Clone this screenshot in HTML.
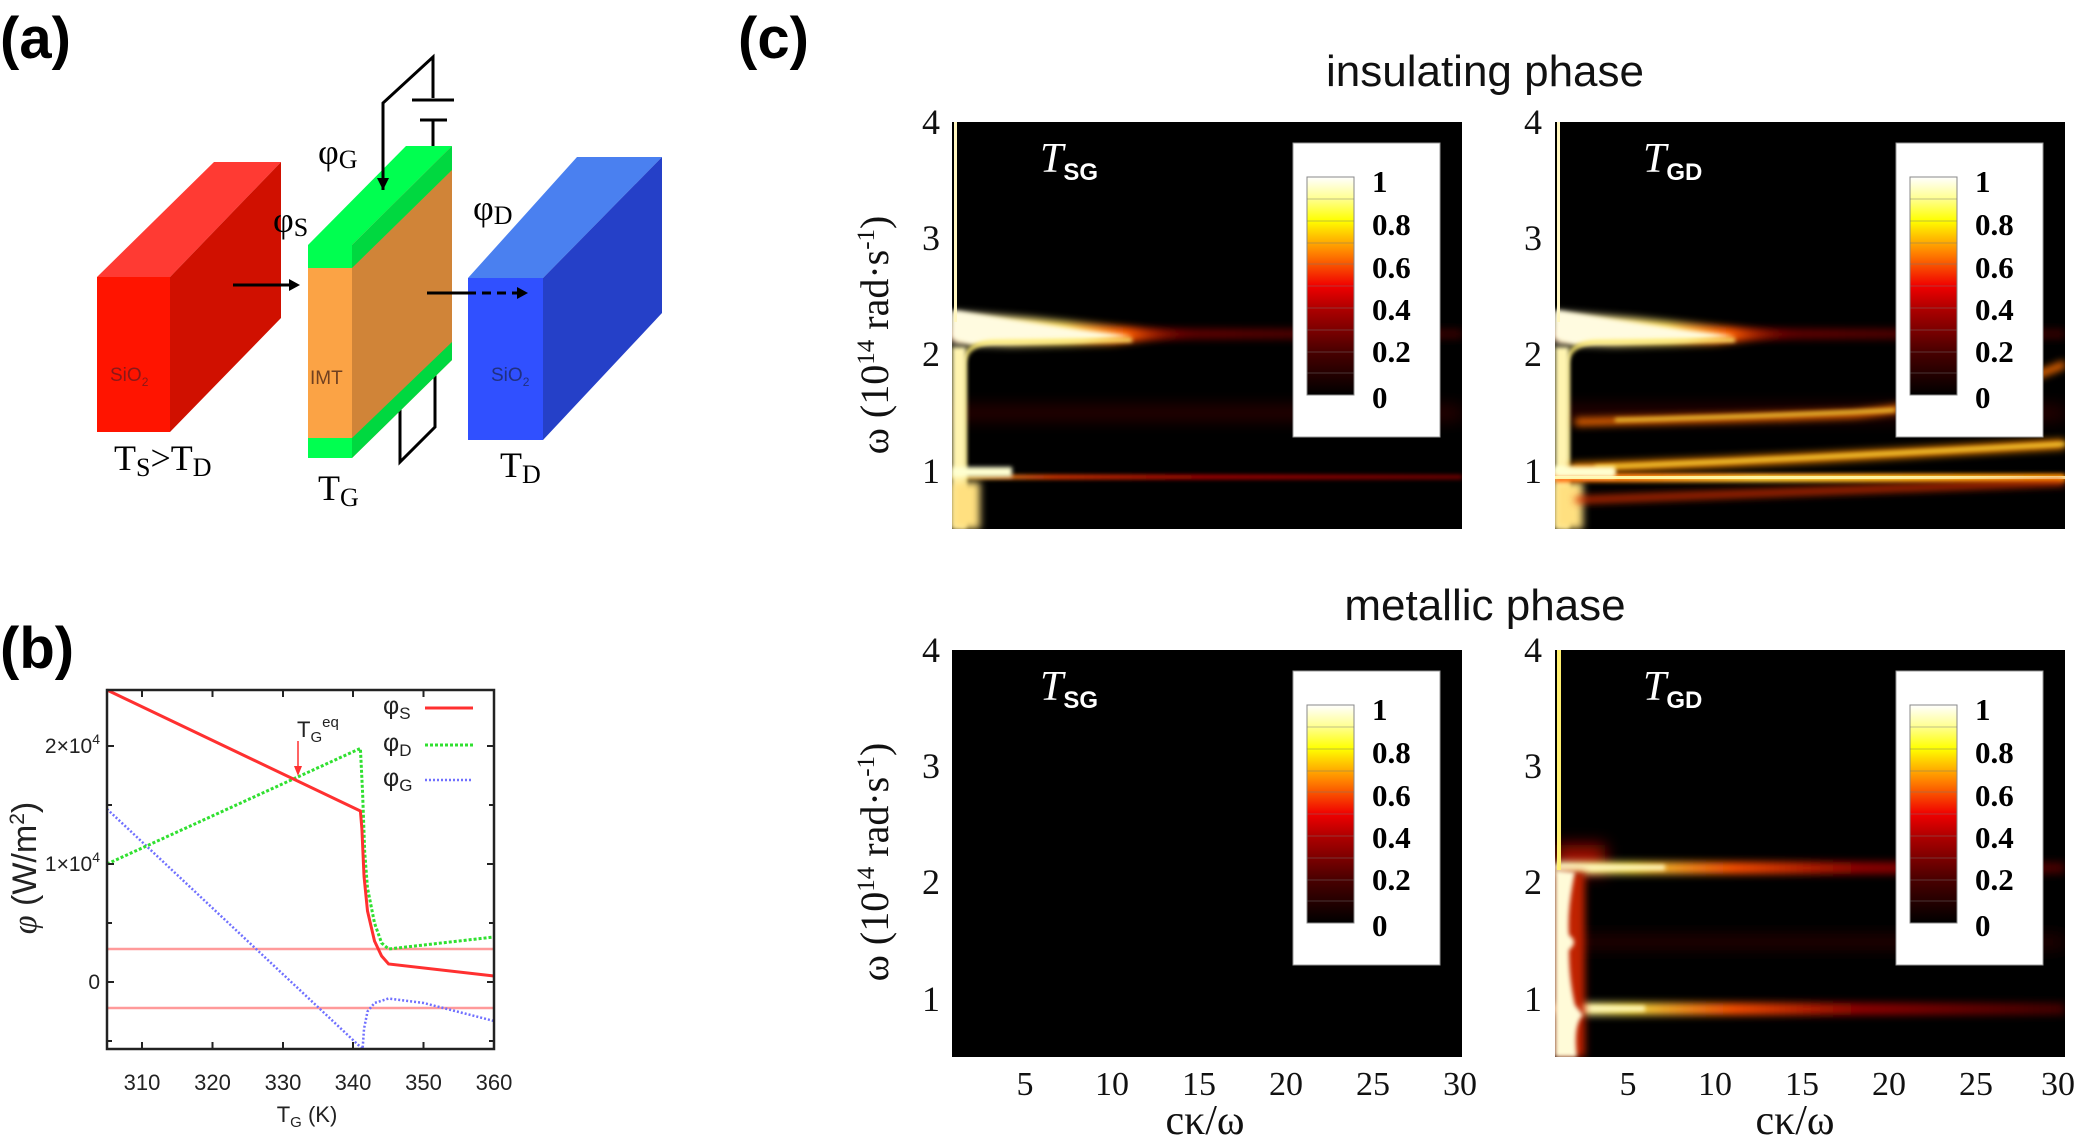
<!DOCTYPE html>
<html><head><meta charset="utf-8"><style>
html,body{margin:0;padding:0;background:#fff;}
svg{display:block;}
.sans{font-family:"Liberation Sans",sans-serif;}
.serif{font-family:"Liberation Serif",serif;}
</style></head><body>
<svg width="2079" height="1141" viewBox="0 0 2079 1141" xmlns="http://www.w3.org/2000/svg">
<defs>
<filter id="b2" filterUnits="userSpaceOnUse" x="-100" y="-100" width="800" height="700"><feGaussianBlur stdDeviation="2"/></filter>
<filter id="b4" filterUnits="userSpaceOnUse" x="-100" y="-100" width="800" height="700"><feGaussianBlur stdDeviation="4"/></filter>
<filter id="b8" filterUnits="userSpaceOnUse" x="-100" y="-100" width="800" height="700"><feGaussianBlur stdDeviation="8"/></filter>
<clipPath id="hm"><rect x="0" y="0" width="510" height="407"/></clipPath>
<linearGradient id="cb" x1="0" y1="1" x2="0" y2="0">
<stop offset="0" stop-color="#000"/><stop offset="0.2" stop-color="#4a0000"/><stop offset="0.4" stop-color="#b00000"/><stop offset="0.5" stop-color="#f00000"/><stop offset="0.65" stop-color="#ff8000"/><stop offset="0.8" stop-color="#ffff00"/><stop offset="0.9" stop-color="#ffff90"/><stop offset="1" stop-color="#ffffff"/>
</linearGradient>
<linearGradient id="fadeW" x1="0" y1="0" x2="1" y2="0"><stop offset="0" stop-color="#fff8d0"/><stop offset="0.45" stop-color="#ffe060"/><stop offset="0.7" stop-color="#ff6000"/><stop offset="1" stop-color="#900000" stop-opacity="0"/></linearGradient>
<linearGradient id="fadeR" x1="0" y1="0" x2="1" y2="0"><stop offset="0" stop-color="#ffd040"/><stop offset="0.2" stop-color="#ff4000"/><stop offset="0.5" stop-color="#c00000"/><stop offset="1" stop-color="#800000"/></linearGradient>
<linearGradient id="fadeD" x1="0" y1="0" x2="1" y2="0"><stop offset="0" stop-color="#900000"/><stop offset="0.5" stop-color="#600000"/><stop offset="1" stop-color="#300000"/></linearGradient>
<linearGradient id="fadeY" x1="0" y1="0" x2="1" y2="0"><stop offset="0" stop-color="#ff6000"/><stop offset="0.4" stop-color="#ffd030"/><stop offset="1" stop-color="#ffb000"/></linearGradient>
<linearGradient id="fadeM" x1="0" y1="0" x2="1" y2="0"><stop offset="0" stop-color="#ffffd0"/><stop offset="0.15" stop-color="#ffe040"/><stop offset="0.35" stop-color="#ff5000"/><stop offset="0.6" stop-color="#900000"/><stop offset="1" stop-color="#400000"/></linearGradient>
<g id="cbar">
<rect x="341" y="21" width="147" height="294" fill="#fff" stroke="#999" stroke-width="1"/>
<rect x="355" y="55" width="47" height="218" fill="url(#cb)" stroke="#888" stroke-width="1"/>
<g stroke="#777" stroke-width="0.8" opacity="0.6">
<line x1="355" y1="77" x2="402" y2="77"/><line x1="355" y1="99" x2="402" y2="99"/><line x1="355" y1="121" x2="402" y2="121"/><line x1="355" y1="142" x2="402" y2="142"/><line x1="355" y1="164" x2="402" y2="164"/><line x1="355" y1="186" x2="402" y2="186"/><line x1="355" y1="208" x2="402" y2="208"/><line x1="355" y1="230" x2="402" y2="230"/><line x1="355" y1="251" x2="402" y2="251"/>
</g>
<g class="serif" font-weight="bold" font-size="31" fill="#000">
<text x="420" y="70">1</text><text x="420" y="113">0.8</text><text x="420" y="156">0.6</text><text x="420" y="198">0.4</text><text x="420" y="240">0.2</text><text x="420" y="286">0</text>
</g>
</g>
<g id="ins">
<rect x="0" y="0" width="510" height="407" fill="#000"/>
<rect x="0" y="284" width="510" height="14" fill="#400000" filter="url(#b8)" opacity="0.7"/>
<rect x="0" y="353" width="510" height="4" fill="url(#fadeR)" filter="url(#b2)"/>
<rect x="0" y="207" width="510" height="10" fill="url(#fadeD)" filter="url(#b4)"/>
<polygon points="0,190 80,196 160,204 250,212 160,222 60,224 0,222" fill="url(#fadeW)" filter="url(#b4)"/>
<polygon points="0,188 60,198 130,208 180,214 130,219 60,221 20,222 0,216" fill="#fffbe0" filter="url(#b2)"/>
<path d="M12,405 L12,240 Q14,222 40,220 L180,218" stroke="#ffec70" stroke-width="4" fill="none" filter="url(#b2)"/>
<rect x="0" y="225" width="14" height="182" fill="#fff4b0" filter="url(#b2)"/>
<rect x="0" y="345" width="60" height="10" fill="#ffffd0" filter="url(#b2)"/>
<rect x="0" y="360" width="28" height="47" fill="#ffe080" filter="url(#b4)"/>
<rect x="2" y="0" width="3" height="200" fill="#fff6c0"/>
</g>
</defs>

<!-- (a) -->
<text x="0" y="58" class="sans" font-weight="bold" font-size="58">(a)</text>
<polygon points="97,277 214,162 281,162 170,277" fill="#ff3a33"/>
<polygon points="170,277 281,162 281,318 170,432" fill="#d01000"/>
<rect x="97" y="277" width="73" height="155" fill="#ff1400"/>
<text x="110" y="381" class="sans" font-size="19" fill="#8a1818">SiO<tspan font-size="12" dy="5">2</tspan></text>
<line x1="233" y1="285" x2="292" y2="285" stroke="#000" stroke-width="3"/><polygon points="300,285 289,279 289,291" fill="#000"/>
<polyline points="400,360 400,462 435,427 435,360" fill="none" stroke="#000" stroke-width="3"/>
<polyline points="383,180 383,103 433,57 433,98" fill="none" stroke="#000" stroke-width="3"/>
<line x1="412" y1="100" x2="454" y2="100" stroke="#000" stroke-width="3"/>
<line x1="420" y1="120" x2="447" y2="120" stroke="#000" stroke-width="3"/>
<line x1="433" y1="120" x2="433" y2="146" stroke="#000" stroke-width="3"/>
<polygon points="308,245 406,146 452,146 352,245" fill="#00ff50"/>
<polygon points="352,245 452,146 452,360 352,458" fill="#d08438"/>
<polygon points="352,245 452,146 452,170 352,268" fill="#00d840"/>
<polygon points="352,438 452,342 452,360 352,458" fill="#00d840"/>
<rect x="308" y="245" width="44" height="213" fill="#fba345"/>
<rect x="308" y="245" width="44" height="23" fill="#00ff50"/>
<rect x="308" y="438" width="44" height="20" fill="#00ff50"/>
<line x1="383" y1="146" x2="383" y2="190" stroke="#000" stroke-width="3"/>
<polygon points="383,190 377,178 389,178" fill="#000"/>
<text x="310" y="384" class="sans" font-size="19" fill="#704020">IMT</text>
<polygon points="468,278 577,157 662,157 543,278" fill="#4a80f0"/>
<polygon points="543,278 662,157 662,313 543,440" fill="#2540c8"/>
<rect x="468" y="278" width="75" height="162" fill="#3050ff"/>
<line x1="427" y1="293" x2="467" y2="293" stroke="#000" stroke-width="3"/>
<line x1="467" y1="293" x2="520" y2="293" stroke="#000" stroke-width="3" stroke-dasharray="9,6"/>
<polygon points="528,293 517,287 517,299" fill="#000"/>
<text x="491" y="381" class="sans" font-size="19" fill="#203080">SiO<tspan font-size="12" dy="5">2</tspan></text>
<g class="serif" font-size="36" fill="#000">
<text x="273" y="232">φ<tspan font-size="26" dy="4">S</tspan></text>
<text x="318" y="164">φ<tspan font-size="26" dy="4">G</tspan></text>
<text x="473" y="220">φ<tspan font-size="26" dy="4">D</tspan></text>
<text x="114" y="470">T<tspan font-size="26" dy="6">S</tspan><tspan dy="-6">&gt;T</tspan><tspan font-size="26" dy="6">D</tspan></text>
<text x="318" y="500">T<tspan font-size="26" dy="6">G</tspan></text>
<text x="500" y="477">T<tspan font-size="26" dy="6">D</tspan></text>
</g>

<!-- (b) -->
<text x="0" y="668" class="sans" font-weight="bold" font-size="58">(b)</text>
<g>
<line x1="107" y1="949" x2="494" y2="949" stroke="#ff9a9a" stroke-width="2.5"/>
<line x1="107" y1="1008" x2="494" y2="1008" stroke="#ff9a9a" stroke-width="2.5"/>
<polyline points="107,809 362.6,1049 364,1029 367.5,1011.5 374.5,1003 388.6,998.5 423.8,1003 494,1021" fill="none" stroke="#7070ff" stroke-width="2.5" stroke-dasharray="2,2"/>
<polyline points="107,864 360.4,748.4 362.6,793 364.7,852 367.5,888 374.5,923 381.6,943 388.6,949 494,937" fill="none" stroke="#30e030" stroke-width="3" stroke-dasharray="3,2"/>
<polyline points="107,690 360.4,811 361.9,829 364,876 367.5,911 374.5,941 381.6,956 388.6,964 494,976" fill="none" stroke="#ff3030" stroke-width="3"/>
<rect x="107" y="690" width="387" height="359" fill="none" stroke="#222" stroke-width="2.5"/>
<g stroke="#222" stroke-width="2">
<line x1="142" y1="1049" x2="142" y2="1042"/><line x1="212.5" y1="1049" x2="212.5" y2="1042"/><line x1="283" y1="1049" x2="283" y2="1042"/><line x1="353" y1="1049" x2="353" y2="1042"/><line x1="423.5" y1="1049" x2="423.5" y2="1042"/>
<line x1="142" y1="690" x2="142" y2="697"/><line x1="212.5" y1="690" x2="212.5" y2="697"/><line x1="283" y1="690" x2="283" y2="697"/><line x1="353" y1="690" x2="353" y2="697"/><line x1="423.5" y1="690" x2="423.5" y2="697"/>
<line x1="107" y1="746" x2="114" y2="746"/><line x1="107" y1="864" x2="114" y2="864"/><line x1="107" y1="982" x2="114" y2="982"/><line x1="107" y1="805" x2="112" y2="805"/><line x1="107" y1="923" x2="112" y2="923"/><line x1="107" y1="1041" x2="112" y2="1041"/>
<line x1="494" y1="746" x2="487" y2="746"/><line x1="494" y1="864" x2="487" y2="864"/><line x1="494" y1="982" x2="487" y2="982"/><line x1="494" y1="805" x2="489" y2="805"/><line x1="494" y1="923" x2="489" y2="923"/><line x1="494" y1="1041" x2="489" y2="1041"/>
</g>
<g class="sans" font-size="22" fill="#222" text-anchor="middle">
<text x="142" y="1090">310</text><text x="212.5" y="1090">320</text><text x="283" y="1090">330</text><text x="353" y="1090">340</text><text x="423.5" y="1090">350</text><text x="494" y="1090">360</text>
</g>
<g class="sans" font-size="21" fill="#222" text-anchor="end">
<text x="100" y="753">2×10<tspan font-size="14" dy="-9">4</tspan></text>
<text x="100" y="871">1×10<tspan font-size="14" dy="-9">4</tspan></text>
<text x="100" y="989">0</text>
</g>
<text x="307" y="1122" class="sans" font-size="22" fill="#222" text-anchor="middle">T<tspan font-size="15" dy="5">G</tspan><tspan dy="-5"> (K)</tspan></text>
<text transform="translate(36,868) rotate(-90)" class="sans" font-size="34" fill="#222" text-anchor="middle"><tspan class="serif" font-style="italic">φ</tspan> (W/m<tspan font-size="21" dy="-12">2</tspan><tspan dy="12">)</tspan></text>
<text x="297" y="737" class="sans" font-size="22" fill="#222">T<tspan font-size="15" dy="5">G</tspan><tspan font-size="15" dy="-15">eq</tspan></text>
<line x1="298" y1="741" x2="298" y2="770" stroke="#ff3030" stroke-width="1.5"/><polygon points="298,776 294,766 302,766" fill="#ff3030"/>
<g class="sans" font-size="25" fill="#222">
<text x="383" y="714">φ<tspan font-size="17" dy="5">S</tspan></text>
<text x="383" y="751">φ<tspan font-size="17" dy="5">D</tspan></text>
<text x="383" y="786">φ<tspan font-size="17" dy="5">G</tspan></text>
</g>
<line x1="425" y1="708" x2="473" y2="708" stroke="#ff3030" stroke-width="3"/>
<line x1="425" y1="745" x2="473" y2="745" stroke="#30e030" stroke-width="3" stroke-dasharray="3,2"/>
<line x1="425" y1="780" x2="473" y2="780" stroke="#7070ff" stroke-width="2.5" stroke-dasharray="2,2"/>
</g>

<!-- (c) -->
<text x="738" y="58" class="sans" font-weight="bold" font-size="58">(c)</text>
<text x="1485" y="86" class="sans" font-size="44" fill="#111" text-anchor="middle">insulating phase</text>
<text x="1485" y="620" class="sans" font-size="44" fill="#111" text-anchor="middle">metallic phase</text>

<g transform="translate(952,122)">
<g clip-path="url(#hm)"><use href="#ins"/></g>
<use href="#cbar"/>
<text x="88" y="50" class="serif" font-style="italic" font-size="42" fill="#fff">T<tspan class="sans" font-style="normal" font-weight="bold" font-size="24" dy="8">SG</tspan></text>
</g>
<g transform="translate(1555,122)">
<g clip-path="url(#hm)">
<use href="#ins"/>
<path d="M20,300 Q200,296 300,292 Q420,280 510,242" stroke="#ff7000" stroke-width="7" fill="none" filter="url(#b4)"/>
<path d="M60,298 Q220,294 340,288" stroke="#ffe040" stroke-width="3" fill="none" filter="url(#b2)"/>
<path d="M15,346 Q200,340 510,322" stroke="#ff8c00" stroke-width="9" fill="none" filter="url(#b4)"/>
<path d="M40,345 Q200,339 510,322" stroke="#ffe040" stroke-width="3" fill="none" filter="url(#b2)"/>
<rect x="0" y="352" width="510" height="8" fill="url(#fadeY)" filter="url(#b2)"/>
<rect x="0" y="354" width="510" height="3" fill="#fff4a0"/>
<path d="M20,378 Q200,372 510,360" stroke="#e03000" stroke-width="6" fill="none" filter="url(#b4)"/>
<rect x="0" y="345" width="60" height="10" fill="#ffffd0" filter="url(#b2)"/>
</g>
<use href="#cbar"/>
<text x="88" y="50" class="serif" font-style="italic" font-size="42" fill="#fff">T<tspan class="sans" font-style="normal" font-weight="bold" font-size="24" dy="8">GD</tspan></text>
</g>
<g transform="translate(952,650)">
<rect x="0" y="0" width="510" height="407" fill="#000"/>
<use href="#cbar"/>
<text x="88" y="50" class="serif" font-style="italic" font-size="42" fill="#fff">T<tspan class="sans" font-style="normal" font-weight="bold" font-size="24" dy="8">SG</tspan></text>
</g>
<g transform="translate(1555,650)">
<g clip-path="url(#hm)">
<rect x="0" y="0" width="510" height="407" fill="#000"/>
<rect x="0" y="287" width="510" height="10" fill="#300000" filter="url(#b8)"/>
<rect x="0" y="195" width="50" height="28" fill="#a01000" filter="url(#b8)"/>
<rect x="0" y="212" width="510" height="12" fill="url(#fadeM)" filter="url(#b4)"/>
<rect x="0" y="215" width="110" height="5" fill="#fff8c0" filter="url(#b2)"/>
<rect x="0" y="353" width="510" height="12" fill="url(#fadeM)" filter="url(#b4)"/>
<rect x="0" y="356" width="90" height="5" fill="#fffac0" filter="url(#b2)"/>
<rect x="0" y="222" width="30" height="185" fill="#c02000" filter="url(#b4)"/>
<path d="M0,220 L20,222 Q12,260 14,285 Q24,292 14,300 Q14,330 20,355 L28,365 Q18,375 22,407 L0,407 Z" fill="#fffbd8" filter="url(#b2)"/>
<rect x="2" y="0" width="4" height="220" fill="#fff070"/>
</g>
<use href="#cbar"/>
<text x="88" y="50" class="serif" font-style="italic" font-size="42" fill="#fff">T<tspan class="sans" font-style="normal" font-weight="bold" font-size="24" dy="8">GD</tspan></text>
</g>

<g class="serif" font-size="36" fill="#111" text-anchor="end">
<text x="940" y="134">4</text><text x="940" y="250">3</text><text x="940" y="366">2</text><text x="940" y="483">1</text>
<text x="1542" y="134">4</text><text x="1542" y="250">3</text><text x="1542" y="366">2</text><text x="1542" y="483">1</text>
<text x="940" y="662">4</text><text x="940" y="778">3</text><text x="940" y="894">2</text><text x="940" y="1011">1</text>
<text x="1542" y="662">4</text><text x="1542" y="778">3</text><text x="1542" y="894">2</text><text x="1542" y="1011">1</text>
</g>
<g class="serif" font-size="34" fill="#111" text-anchor="middle">
<text x="1025" y="1095">5</text><text x="1112" y="1095">10</text><text x="1199" y="1095">15</text><text x="1286" y="1095">20</text><text x="1373" y="1095">25</text><text x="1460" y="1095">30</text>
<text x="1628" y="1095">5</text><text x="1715" y="1095">10</text><text x="1802" y="1095">15</text><text x="1889" y="1095">20</text><text x="1976" y="1095">25</text><text x="2058" y="1095">30</text>
</g>
<g class="serif" font-size="42" fill="#111" text-anchor="middle">
<text x="1205" y="1134">cκ/ω</text>
<text x="1795" y="1134">cκ/ω</text>
</g>
<g class="serif" font-size="40" fill="#111" text-anchor="middle">
<text transform="translate(888,335) rotate(-90)">ω (10<tspan font-size="25" dy="-14">14</tspan><tspan dy="14"> rad·s</tspan><tspan font-size="25" dy="-14">-1</tspan><tspan dy="14">)</tspan></text>
<text transform="translate(888,862) rotate(-90)">ω (10<tspan font-size="25" dy="-14">14</tspan><tspan dy="14"> rad·s</tspan><tspan font-size="25" dy="-14">-1</tspan><tspan dy="14">)</tspan></text>
</g>
</svg>
</body></html>
